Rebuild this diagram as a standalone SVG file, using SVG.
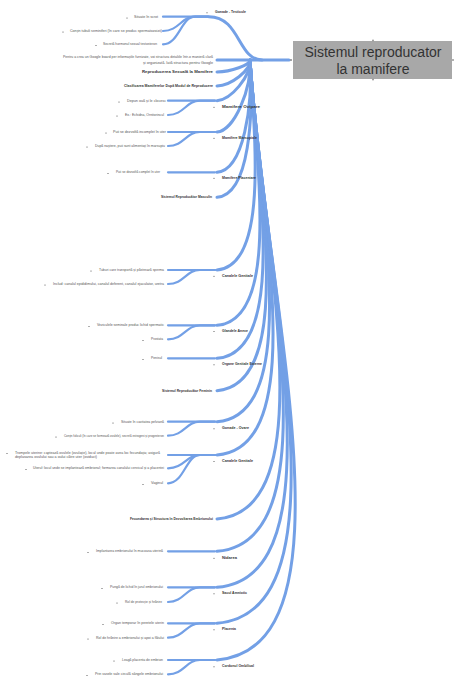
<svg xmlns="http://www.w3.org/2000/svg" width="474" height="692" viewBox="0 0 474 692">
<style>
.c{fill:none;stroke:#73a0e6;stroke-linecap:round}
.m{stroke-width:3}
.k{stroke-width:2.2}
.t{font-family:"Liberation Sans",Arial,sans-serif;font-size:3.2px;fill:#555;dominant-baseline:central}
.l{font-family:"Liberation Sans",Arial,sans-serif;font-size:3.6px;font-weight:bold;fill:#333;dominant-baseline:central}
.b{fill:#444}
.r{font-family:"Liberation Sans",Arial,sans-serif;font-size:14px;fill:#333;text-anchor:middle}
</style>
<rect width="474" height="692" fill="#fff"/>
<g id="connectors">
<path class="c m" d="M250,60 H289"/>
<path class="c m" d="M262,60 C238,60 240,16.7 209,16.7"/>
<path class="c m" d="M250,60 H217"/>
<path class="c m" d="M250,60 C250.3,64.8 231,71.8 217,72"/>
<path class="c m" d="M250,60 C250.7,70.4 231,85.5 217,86"/>
<path class="c m" d="M250,60 C251,76.3 231,99.9 217,100.7"/>
<path class="c m" d="M250,60 C251.8,88.8 234.3,130.6 217,132"/>
<path class="c m" d="M250,60 C252.8,104.9 244,170.1 217,172.3"/>
<path class="c m" d="M250,60 C253.4,114.9 250,194.6 217,197.3"/>
<path class="c m" d="M250,60 C255.3,144 267.4,265.8 217,270"/>
<path class="c m" d="M250,60 C256.6,166.1 280.7,320 217,325.3"/>
<path class="c m" d="M250,60 C257.5,179.3 288.6,352.3 217,358.3"/>
<path class="c m" d="M250,60 C258.3,192.3 296.4,384.1 217,390.7"/>
<path class="c m" d="M250,60 C259,204.7 303.8,414.5 217,421.7"/>
<path class="c m" d="M250,60 C259.9,218 311.8,447.1 217,455"/>
<path class="c m" d="M250,60 C261.5,243.6 327.2,509.8 217,519"/>
<path class="c m" d="M250,60 C262.3,256.5 334.9,541.5 217,551.3"/>
<path class="c m" d="M250,60 C263.2,270.9 343.6,576.8 217,587.3"/>
<path class="c m" d="M250,60 C264.1,285.3 352.2,612 217,623.3"/>
<path class="c m" d="M250,60 C265,300 361,648 217,660"/>
<path class="c k" d="M208,16.7 H163"/>
<path class="c k" d="M208,16.7 H195 C181,16.7 179,31 163,31"/>
<path class="c k" d="M208,16.7 H195 C181,16.7 179,44.3 163,44.3"/>
<path class="c k" d="M215,100.7 H168"/>
<path class="c k" d="M215,100.7 H200 C186,100.7 184,115 168,115"/>
<path class="c k" d="M215,132 H168"/>
<path class="c k" d="M215,132 H200 C186,132 184,146 168,146"/>
<path class="c k" d="M215,172.3 H168"/>
<path class="c k" d="M215,270 H168"/>
<path class="c k" d="M215,270 H200 C186,270 184,284 168,284"/>
<path class="c k" d="M215,325.3 H168"/>
<path class="c k" d="M215,325.3 H200 C186,325.3 184,339.3 168,339.3"/>
<path class="c k" d="M215,358.3 H168"/>
<path class="c k" d="M215,421.7 H168"/>
<path class="c k" d="M215,421.7 H200 C186,421.7 184,435.7 168,435.7"/>
<path class="c k" d="M215,455 H168"/>
<path class="c k" d="M215,455 H200 C186,455 184,468.3 168,468.3"/>
<path class="c k" d="M215,455 H200 C186,455 184,483.3 168,483.3"/>
<path class="c k" d="M215,551.3 H168"/>
<path class="c k" d="M215,587.3 H168"/>
<path class="c k" d="M215,587.3 H200 C186,587.3 184,602 168,602"/>
<path class="c k" d="M215,623.3 H168"/>
<path class="c k" d="M215,623.3 H200 C186,623.3 184,637.7 168,637.7"/>
<path class="c k" d="M215,660 H168"/>
<path class="c k" d="M215,660 H200 C186,660 184,674.3 168,674.3"/>
</g>
<g id="root">
<rect x="293" y="41" width="159" height="38" fill="#a8a8a8"/>
<circle cx="373" cy="40.5" r="1" fill="#999"/>
<circle cx="373" cy="79.5" r="1" fill="#999"/>
<circle cx="453" cy="60" r="1" fill="#999"/>
<circle cx="291" cy="60" r="1" fill="#888"/>
<text class="r" x="373" y="57">Sistemul reproducator</text>
<text class="r" x="373" y="74">la mamifere</text>
</g>
<g id="gonade-testicule">
<circle class="b" cx="207" cy="12.7" r="0.55"/>
<text class="l" x="215" y="12" textLength="31" lengthAdjust="spacingAndGlyphs">Gonade - Testicule</text>
</g>
<g id="n-situate-scrot"><circle class="b" cx="127" cy="18" r="0.55"/><text class="t" x="134" y="16.7" textLength="24" lengthAdjust="spacingAndGlyphs">Situate în scrot</text></g>
<g id="n-tubuli"><circle class="b" cx="63" cy="32" r="0.55"/><text class="t" x="70" y="31" textLength="92" lengthAdjust="spacingAndGlyphs">Conțin tubuli seminiferi (în care se produc spermatozoizii)</text></g>
<g id="n-testosteron"><circle class="b" cx="96" cy="45.5" r="0.55"/><text class="t" x="103" y="44.3" textLength="54" lengthAdjust="spacingAndGlyphs">Secretă hormonul sexual testosteron</text></g>
<g id="n-pentru">
<text class="t" x="63" y="57.3" textLength="150" lengthAdjust="spacingAndGlyphs">Pentru a crea un Google board per informațiile furnizate, voi structura detaliile într-o manieră clară</text>
<text class="t" x="143" y="62.7" textLength="70" lengthAdjust="spacingAndGlyphs">și organizată. Iată structura pentru Google</text>
</g>
<g id="n-reproducerea"><text class="l" style="font-size:4.2px" x="142" y="71.7" textLength="71" lengthAdjust="spacingAndGlyphs">Reproducerea Sexuală la Mamifere</text></g>
<g id="n-clasificarea"><text class="l" style="font-size:3.4px" x="124" y="86" textLength="89" lengthAdjust="spacingAndGlyphs">Clasificarea Mamiferelor După Modul de Reproducere</text></g>
<g id="n-ovipare"><circle class="b" cx="214" cy="107.2" r="0.55"/><text class="l" x="222" y="106.7" textLength="38" lengthAdjust="spacingAndGlyphs">Mamifere Ovipare</text></g>
<g id="n-depun"><circle class="b" cx="119" cy="102" r="0.55"/><text class="t" x="127" y="100.7" textLength="39" lengthAdjust="spacingAndGlyphs">Depun ouă și le clocesc</text></g>
<g id="n-echidna"><circle class="b" cx="117" cy="116" r="0.55"/><text class="t" x="125" y="115" textLength="39" lengthAdjust="spacingAndGlyphs">Ex.: Echidna, Ornitorincul</text></g>
<g id="n-marsupiale"><circle class="b" cx="214" cy="138.2" r="0.55"/><text class="l" x="222" y="137.7" textLength="35" lengthAdjust="spacingAndGlyphs">Mamifere Marsupiale</text></g>
<g id="n-incomplet"><circle class="b" cx="106" cy="133" r="0.55"/><text class="t" x="113" y="132" textLength="53" lengthAdjust="spacingAndGlyphs">Puii se dezvoltă incomplet în uter</text></g>
<g id="n-marsupiu"><circle class="b" cx="87" cy="147" r="0.55"/><text class="t" x="95" y="146" textLength="70" lengthAdjust="spacingAndGlyphs">După naștere, puii sunt alimentați în marsupiu</text></g>
<g id="n-placentare"><circle class="b" cx="214" cy="178.2" r="0.55"/><text class="l" x="222" y="177.7" textLength="34" lengthAdjust="spacingAndGlyphs">Mamifere Placentare</text></g>
<g id="n-complet"><circle class="b" cx="108" cy="173.5" r="0.55"/><text class="t" x="116" y="172.3" textLength="44" lengthAdjust="spacingAndGlyphs">Puii se dezvoltă complet în uter</text></g>
<g id="n-masculin"><text class="l" style="font-size:3.4px" x="161" y="197.3" textLength="51" lengthAdjust="spacingAndGlyphs">Sistemul Reproducător Masculin</text></g>
<g id="n-canalele-m"><circle class="b" cx="214" cy="276.2" r="0.55"/><text class="l" x="222" y="275.7" textLength="31" lengthAdjust="spacingAndGlyphs">Canalele Genitale</text></g>
<g id="n-tuburi"><circle class="b" cx="91" cy="271" r="0.55"/><text class="t" x="99" y="270" textLength="65" lengthAdjust="spacingAndGlyphs">Tuburi care transportă și păstrează sperma</text></g>
<g id="n-includ"><circle class="b" cx="45" cy="285" r="0.55"/><text class="t" x="53" y="284" textLength="111" lengthAdjust="spacingAndGlyphs">Includ: canalul epididimului, canalul deferent, canalul ejaculator, uretra</text></g>
<g id="n-glandele"><circle class="b" cx="214" cy="331.5" r="0.55"/><text class="l" x="222" y="331" textLength="26" lengthAdjust="spacingAndGlyphs">Glandele Anexe</text></g>
<g id="n-veziculele"><circle class="b" cx="89" cy="326.5" r="0.55"/><text class="t" x="97" y="325.3" textLength="67" lengthAdjust="spacingAndGlyphs">Veziculele seminale produc lichid spermatic</text></g>
<g id="n-prostata"><circle class="b" cx="143" cy="340.5" r="0.55"/><text class="t" x="151" y="339.3" textLength="12" lengthAdjust="spacingAndGlyphs">Prostata</text></g>
<g id="n-organe"><circle class="b" cx="214" cy="364.8" r="0.55"/><text class="l" x="222" y="364.3" textLength="40" lengthAdjust="spacingAndGlyphs">Organe Genitale Externe</text></g>
<g id="n-penisul"><circle class="b" cx="143" cy="359.5" r="0.55"/><text class="t" x="151" y="358.3" textLength="11" lengthAdjust="spacingAndGlyphs">Penisul</text></g>
<g id="n-feminin"><text class="l" style="font-size:3.4px" x="162" y="390.7" textLength="50" lengthAdjust="spacingAndGlyphs">Sistemul Reproducător Feminin</text></g>
<g id="n-ovare"><circle class="b" cx="214" cy="428.8" r="0.55"/><text class="l" x="222" y="428.3" textLength="27" lengthAdjust="spacingAndGlyphs">Gonade - Ovare</text></g>
<g id="n-pelviana"><circle class="b" cx="113" cy="423" r="0.55"/><text class="t" x="121" y="421.7" textLength="43" lengthAdjust="spacingAndGlyphs">Situate în cavitatea pelviană</text></g>
<g id="n-foliculi"><circle class="b" cx="56" cy="437" r="0.55"/><text class="t" x="64" y="435.7" textLength="100" lengthAdjust="spacingAndGlyphs">Conțin foliculi (în care se formează ovulele), secretă estrogeni și progesteron</text></g>
<g id="n-canalele-f"><circle class="b" cx="214" cy="461.5" r="0.55"/><text class="l" x="222" y="461" textLength="31" lengthAdjust="spacingAndGlyphs">Canalele Genitale</text></g>
<g id="n-trompele"><circle class="b" cx="7" cy="453.5" r="0.55"/>
<text class="t" x="15" y="452.7" textLength="145" lengthAdjust="spacingAndGlyphs">Trompele uterine: captează ovulele (ovulație), locul unde poate avea loc fecundația; asigură</text>
<text class="t" x="15" y="457.3" textLength="82" lengthAdjust="spacingAndGlyphs">deplasarea ovulului sau a oului către uter (oviduct)</text></g>
<g id="n-uterul"><circle class="b" cx="26" cy="469.5" r="0.55"/><text class="t" x="33" y="468.3" textLength="131" lengthAdjust="spacingAndGlyphs">Uterul: locul unde se implantează embrionul; formarea canalului cervical și a placentei</text></g>
<g id="n-vaginul"><circle class="b" cx="143" cy="484.5" r="0.55"/><text class="t" x="151" y="483.3" textLength="12" lengthAdjust="spacingAndGlyphs">Vaginul</text></g>
<g id="n-fecundarea"><text class="l" style="font-size:3.4px" x="130" y="519" textLength="83" lengthAdjust="spacingAndGlyphs">Fecundarea și Structura în Dezvoltarea Embrionului</text></g>
<g id="n-nidarea"><circle class="b" cx="214" cy="558.2" r="0.55"/><text class="l" x="222" y="557.7" textLength="15" lengthAdjust="spacingAndGlyphs">Nidarea</text></g>
<g id="n-implantarea"><circle class="b" cx="88" cy="552.5" r="0.55"/><text class="t" x="96" y="551.3" textLength="67" lengthAdjust="spacingAndGlyphs">Implantarea embrionului în mucoasa uterină</text></g>
<g id="n-sacul"><circle class="b" cx="214" cy="593.8" r="0.55"/><text class="l" x="222" y="593.3" textLength="25" lengthAdjust="spacingAndGlyphs">Sacul Amniotic</text></g>
<g id="n-punga"><circle class="b" cx="102" cy="588.5" r="0.55"/><text class="t" x="110" y="587.3" textLength="53" lengthAdjust="spacingAndGlyphs">Pungă de lichid în jurul embrionului</text></g>
<g id="n-protectie"><circle class="b" cx="117" cy="603" r="0.55"/><text class="t" x="125" y="602" textLength="37" lengthAdjust="spacingAndGlyphs">Rol de protecție și hrănire</text></g>
<g id="n-placenta"><circle class="b" cx="214" cy="629.8" r="0.55"/><text class="l" x="222" y="629.3" textLength="14" lengthAdjust="spacingAndGlyphs">Placenta</text></g>
<g id="n-organ-temporar"><circle class="b" cx="103" cy="624.5" r="0.55"/><text class="t" x="111" y="623.3" textLength="53" lengthAdjust="spacingAndGlyphs">Organ temporar în peretele uterin</text></g>
<g id="n-hranire"><circle class="b" cx="88" cy="639" r="0.55"/><text class="t" x="96" y="637.7" textLength="68" lengthAdjust="spacingAndGlyphs">Rol de hrănire a embrionului și apoi a fătului</text></g>
<g id="n-cordonul"><circle class="b" cx="214" cy="666.8" r="0.55"/><text class="l" x="222" y="666.3" textLength="32" lengthAdjust="spacingAndGlyphs">Cordonul Ombilical</text></g>
<g id="n-leaga"><circle class="b" cx="114" cy="661" r="0.55"/><text class="t" x="122" y="660" textLength="41" lengthAdjust="spacingAndGlyphs">Leagă placenta de embrion</text></g>
<g id="n-vasele"><circle class="b" cx="87" cy="675.5" r="0.55"/><text class="t" x="95" y="674.3" textLength="68" lengthAdjust="spacingAndGlyphs">Prin vasele sale circulă sângele embrionului</text></g>
</svg>
